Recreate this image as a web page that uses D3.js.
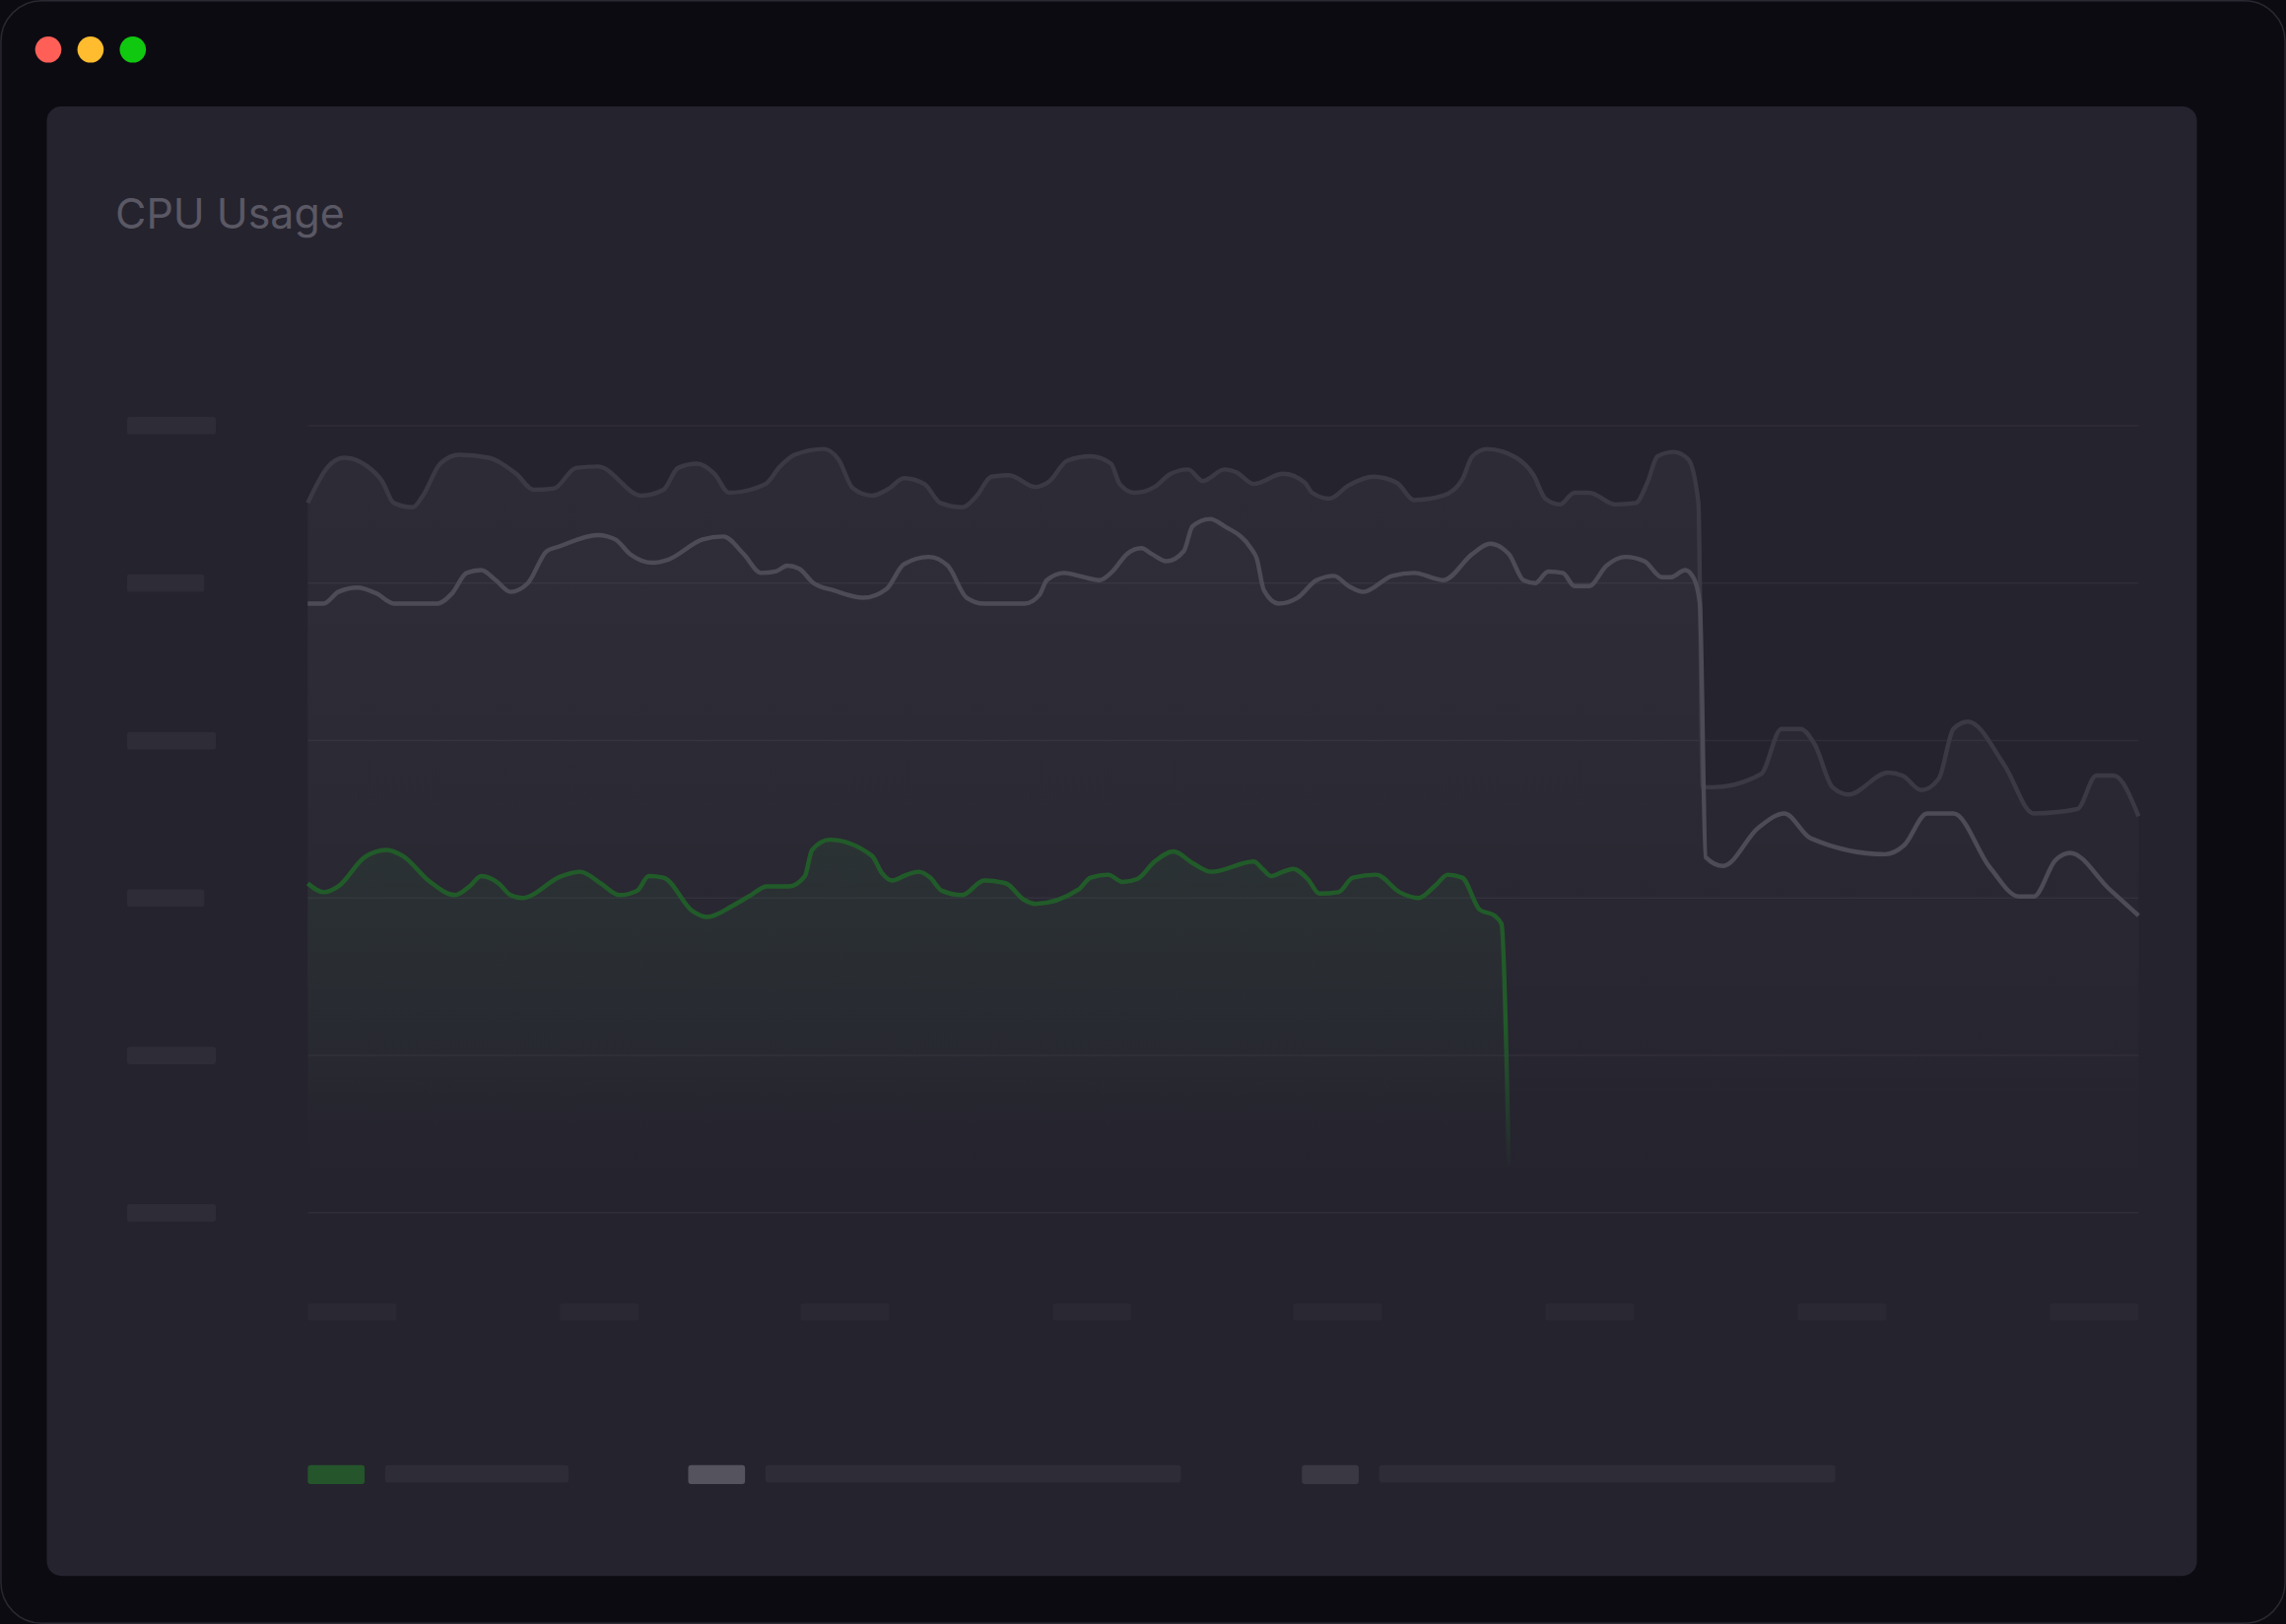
<!DOCTYPE html>
<html><head><meta charset="utf-8">
<script src="https://cdn.jsdelivr.net/npm/d3@7"></script>
<style>html,body{margin:0;padding:0;background:#0d0b12;}svg{display:block}</style>
</head><body>
<script>
const title = "CPU Usage";
const yTicks = [0,108,216,324,432,540];
const yLabelWidths = [61,61,53,61,53,61];
const xTicks = [0,173,338,511,676,849,1022,1195];
const xLabelWidths = [61,54,61,54,61,61,61,61];
const seriesGreen = [[0,226],[11,220],[21,224],[39,244],[54,249],[65,245],[84,227],[101,218],[111,224],[119,231],[131,226],[139,218],[147,216],[174,231],[187,234],[201,226],[214,218],[226,221],[234,231],[244,230],[264,207],[274,203],[292,211],[304,218],[315,224],[330,224],[341,231],[346,249],[358,256],[387,245],[394,233],[401,228],[411,232],[419,234],[427,230],[435,221],[449,218],[464,228],[479,226],[491,215],[499,212],[529,222],[537,230],[549,232],[559,227],[569,229],[581,241],[594,248],[607,240],[620,234],[649,241],[655,236],[661,231],[669,234],[676,236],[686,229],[694,219],[707,220],[717,230],[733,232],[749,220],[762,216],[774,225],[782,232],[792,230],[804,208],[814,204],[819,198],[824,32]];
const seriesTop = [[0,487],[14,512],[25,518],[41,512],[51,502],[59,487],[72,484],[79,492],[91,514],[104,520],[124,518],[143,507],[155,496],[169,497],[184,511],[199,512],[229,492],[244,496],[254,511],[267,514],[279,507],[289,494],[314,500],[324,512],[334,520],[354,524],[364,517],[374,497],[387,492],[399,497],[409,504],[423,500],[434,487],[449,484],[459,492],[469,505],[481,506],[499,498],[509,502],[521,516],[537,519],[551,514],[557,500],[567,494],[581,498],[592,507],[604,510],[614,502],[629,510],[637,508],[649,500],[669,507],[684,501],[689,494],[701,490],[714,499],[731,505],[747,501],[759,489],[779,492],[792,503],[799,519],[809,524],[829,518],[841,506],[849,490],[859,486],[869,494],[879,494],[897,486],[911,487],[919,501],[926,519],[937,522],[947,517],[954,487],[957,292],[964,292],[997,301],[1011,332],[1024,332],[1034,321],[1046,292],[1057,287],[1084,302],[1094,300],[1107,290],[1119,298],[1129,332],[1139,337],[1164,307],[1184,274],[1214,277],[1227,300],[1239,300],[1256,272]];
const seriesMid = [[0,418],[11,418],[21,426],[34,429],[47,425],[59,418],[89,418],[99,425],[109,439],[119,441],[129,434],[139,426],[151,432],[164,454],[172,457],[199,465],[211,462],[221,452],[237,446],[247,448],[271,462],[285,464],[299,452],[311,439],[321,440],[329,444],[337,442],[347,432],[361,427],[381,422],[397,428],[409,445],[426,450],[439,444],[452,422],[464,418],[492,418],[502,424],[507,434],[519,439],[529,437],[543,434],[552,440],[562,452],[572,456],[579,452],[589,447],[601,454],[607,471],[619,476],[629,471],[647,456],[651,449],[656,427],[666,418],[679,422],[692,434],[704,437],[714,430],[724,426],[744,437],[759,439],[774,435],[779,434],[799,452],[811,459],[824,452],[834,434],[842,432],[851,440],[861,439],[869,430],[879,430],[891,444],[904,450],[917,447],[929,436],[935,436],[945,441],[951,435],[955,418],[959,244],[971,238],[995,264],[1013,274],[1031,257],[1082,246],[1095,252],[1111,274],[1129,274],[1154,237],[1174,217],[1184,217],[1199,242],[1209,247],[1236,222],[1256,204]];
const legendColors = ["#24552b","#55535d","#3a3843"];
const legendTextWidths = [126,285,313];

const W=2320,H=1648;
const svg0=d3.select("body").append("svg").attr("width",W).attr("height",H).attr("viewBox","0 0 1568 1114");
const svg=svg0.append("g");
const defs=svg0.append("defs");
svg.append("rect").attr("x",0.5).attr("y",0.5).attr("width",1567).attr("height",1113).attr("rx",28).attr("fill","#0d0b12").attr("stroke","#2a2830");
[["#ff5f57",33],["#febc2e",62],["#10c810",91]].forEach(([c,x])=>svg.append("circle").attr("cx",x).attr("cy",34).attr("r",9).attr("fill",c));
svg.append("rect").attr("x",32).attr("y",73).attr("width",1475).attr("height",1008).attr("rx",10).attr("fill","#25232e");
svg.append("text").attr("x",79).attr("y",157).text(title).attr("font-family","Inter, sans-serif").attr("font-size",29).attr("fill","#5a5864");

const x=d3.scaleLinear().domain([0,1256]).range([211,1467]);
const y=d3.scaleLinear().domain([0,540]).range([832,292]);

svg.append("g").selectAll("line").data(yTicks).join("line")
 .attr("x1",211).attr("x2",1467).attr("y1",d=>y(d)).attr("y2",d=>y(d)).attr("stroke","#2f2d38").attr("stroke-width",1);
svg.append("g").selectAll("rect").data(yTicks).join("rect")
 .attr("x",87).attr("y",(d)=>y(d)-6).attr("width",(d,i)=>yLabelWidths[i]).attr("height",12).attr("rx",2).attr("fill","#2e2c37");
svg.append("g").selectAll("rect").data(xTicks).join("rect")
 .attr("x",(d,i)=> i===xTicks.length-1 ? x(d)+61-xLabelWidths[i] : x(d)).attr("y",894).attr("width",(d,i)=>xLabelWidths[i]).attr("height",12).attr("rx",2).attr("fill","#2a2833");

function grad(id,color,o1){
  const g=defs.append("linearGradient").attr("id",id).attr("gradientUnits","userSpaceOnUse").attr("x1",0).attr("x2",0).attr("y1",292).attr("y2",832);
  g.append("stop").attr("offset",0).attr("stop-color",color).attr("stop-opacity",o1);
  g.append("stop").attr("offset",1).attr("stop-color",color).attr("stop-opacity",0);
}
grad("gTop","#ffffff",0.04);
grad("gMid","#ffffff",0.015);
const gg=defs.append("linearGradient").attr("id","gGreen").attr("gradientUnits","userSpaceOnUse").attr("x1",0).attr("x2",0).attr("y1",580).attr("y2",800);
gg.append("stop").attr("offset",0).attr("stop-color","#2e7a3a").attr("stop-opacity",0.12);
gg.append("stop").attr("offset",1).attr("stop-color","#2e7a3a").attr("stop-opacity",0);
const gs=defs.append("linearGradient").attr("id","gGreenStroke").attr("gradientUnits","userSpaceOnUse").attr("x1",0).attr("x2",0).attr("y1",700).attr("y2",805);
gs.append("stop").attr("offset",0).attr("stop-color","#215b29").attr("stop-opacity",1);
gs.append("stop").attr("offset",1).attr("stop-color","#215b29").attr("stop-opacity",0);

const curve=d3.curveMonotoneX;
const area=d3.area().x(d=>x(d[0])).y0(y(0)).y1(d=>y(d[1])).curve(curve);
const line=d3.line().x(d=>x(d[0])).y(d=>y(d[1])).curve(curve);

svg.append("path").datum(seriesTop).attr("d",area).attr("fill","url(#gTop)");
svg.append("path").datum(seriesMid).attr("d",area).attr("fill","url(#gMid)");
svg.append("path").datum(seriesGreen).attr("d",area).attr("fill","url(#gGreen)");

svg.append("path").datum(seriesTop).attr("d",line).attr("fill","none").attr("stroke","#3b3944").attr("stroke-width",3).attr("stroke-linejoin","round");
svg.append("path").datum(seriesMid).attr("d",line).attr("fill","none").attr("stroke","#4d4b56").attr("stroke-width",3).attr("stroke-linejoin","round");
svg.append("path").datum(seriesGreen).attr("d",line).attr("fill","none").attr("stroke","url(#gGreenStroke)").attr("stroke-width",3).attr("stroke-linejoin","round");

const legX=[211,472,893];
legendColors.forEach((c,i)=>{
  svg.append("rect").attr("x",legX[i]).attr("y",1005).attr("width",39).attr("height",13).attr("rx",2).attr("fill",c);
  svg.append("rect").attr("x",legX[i]+53).attr("y",1005).attr("width",legendTextWidths[i]).attr("height",12).attr("rx",2).attr("fill","#2e2c37");
});
</script>
</body></html>
